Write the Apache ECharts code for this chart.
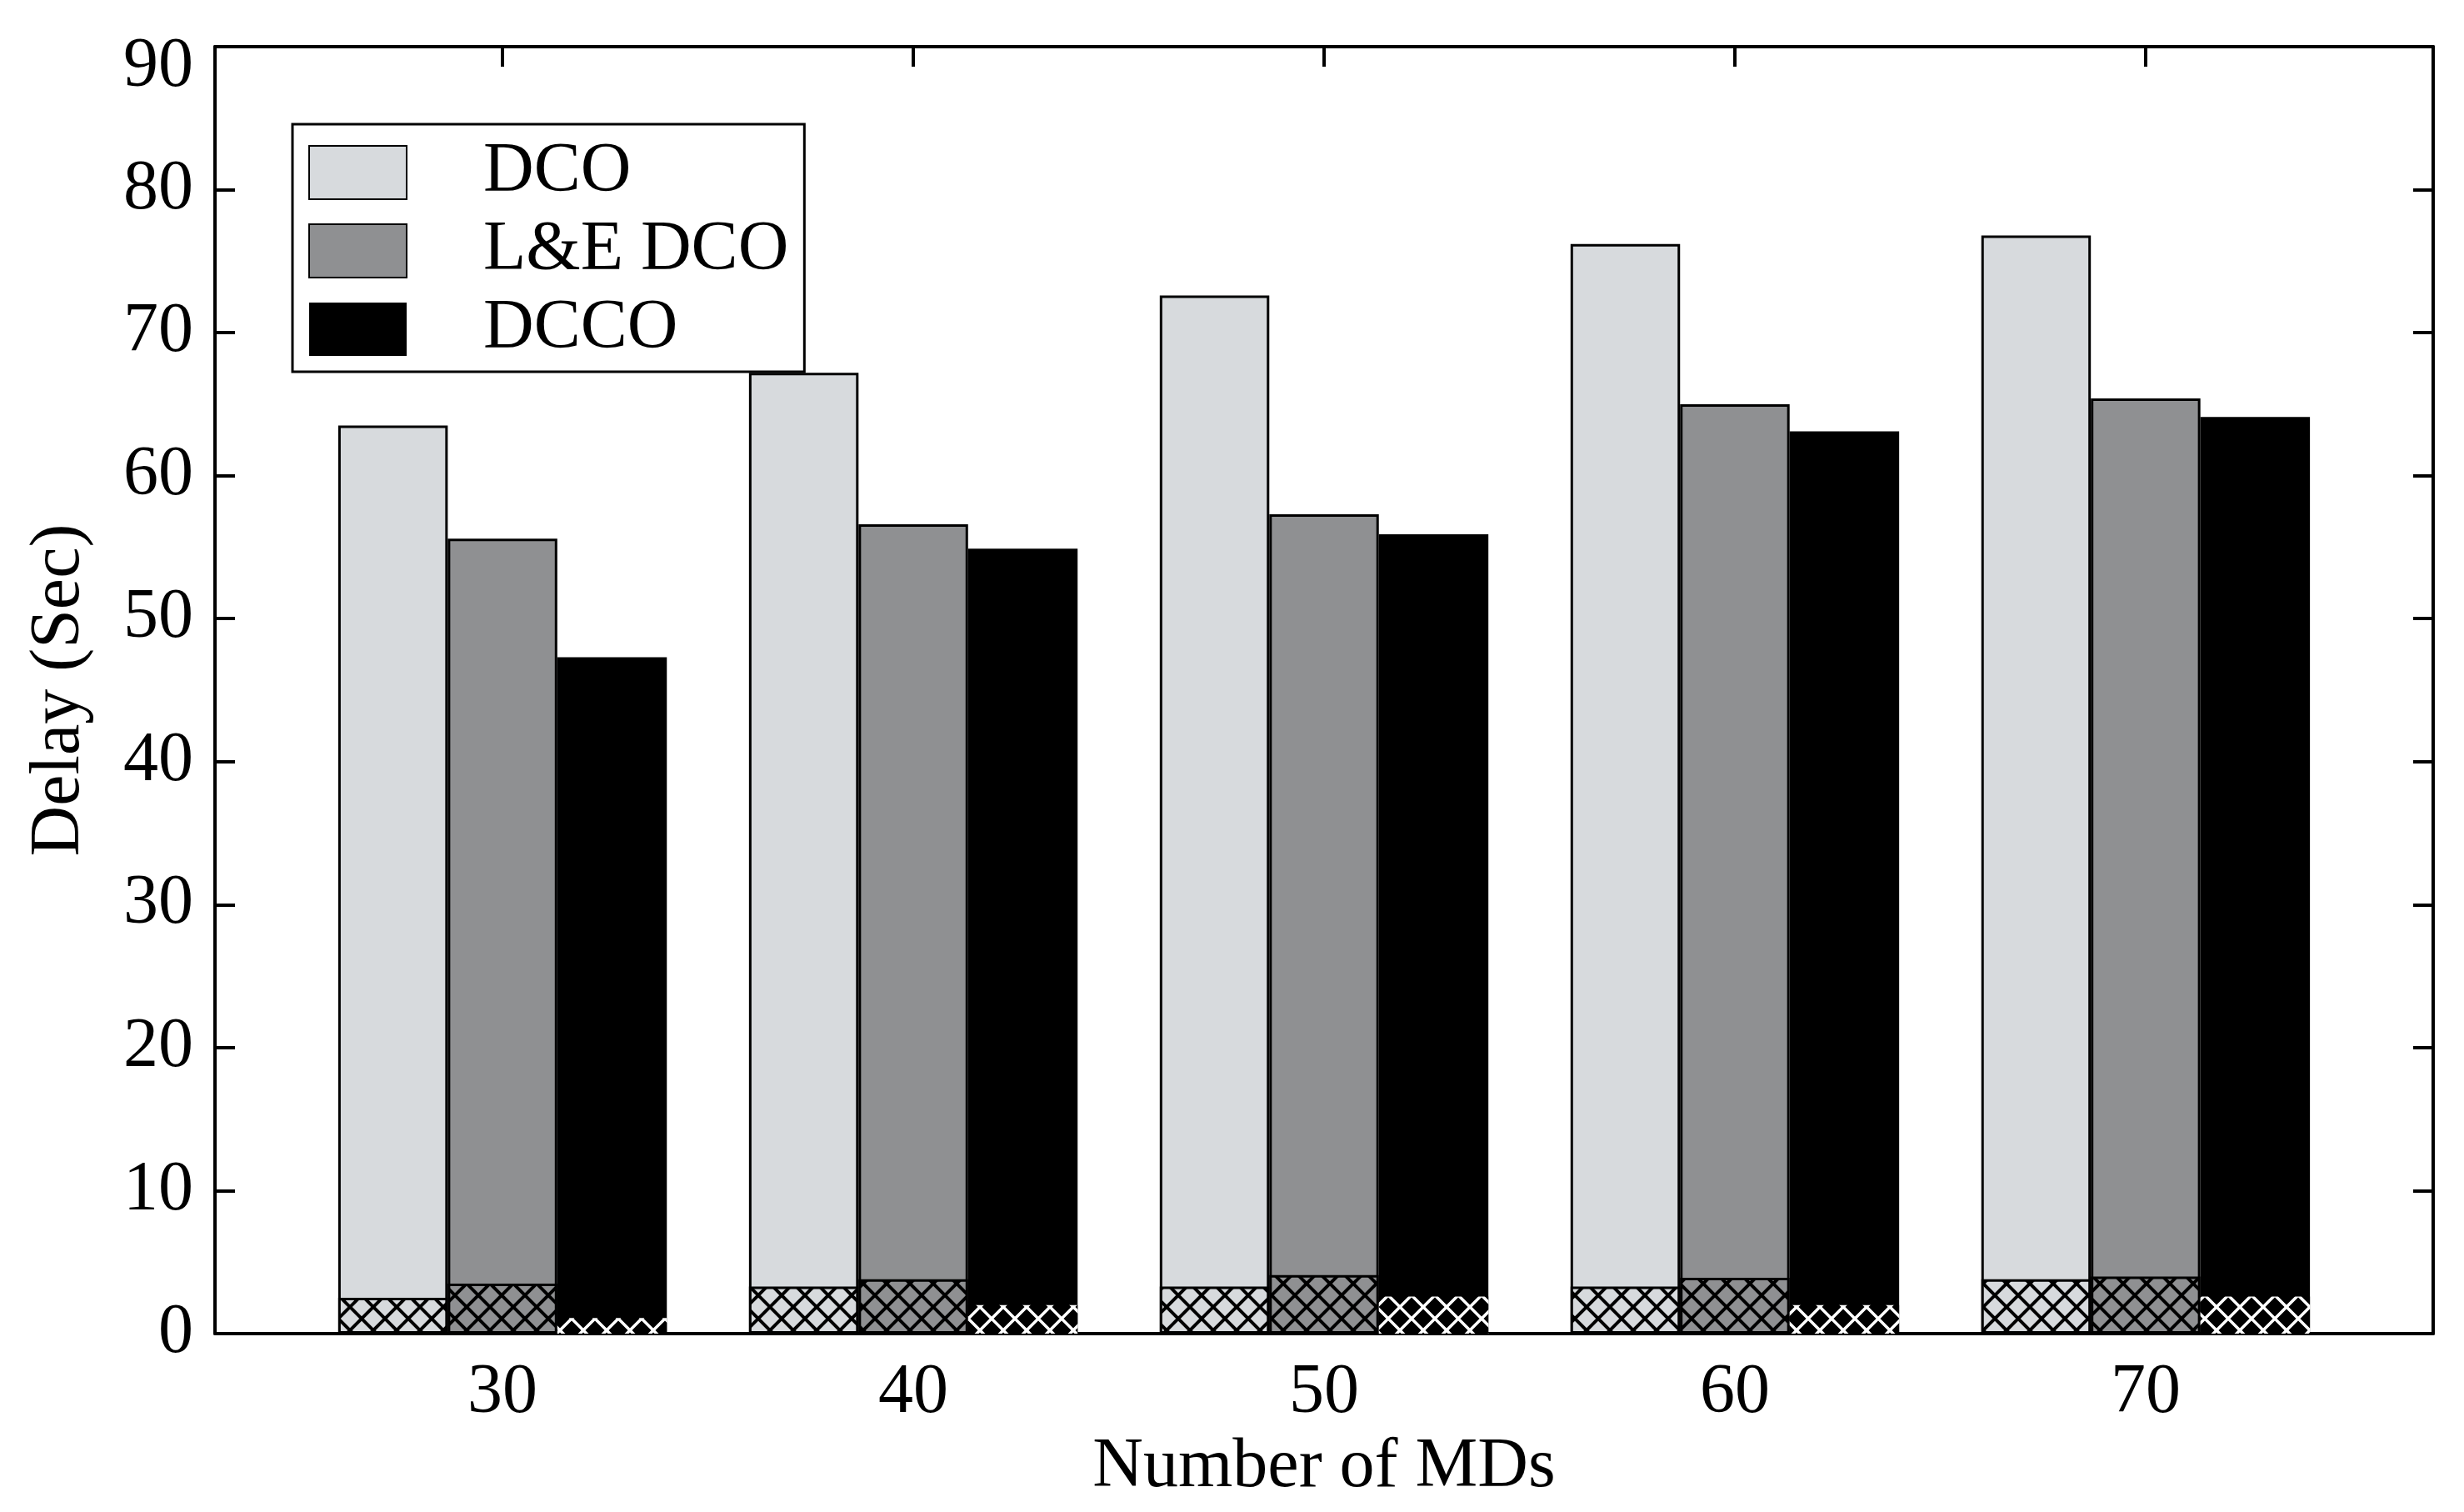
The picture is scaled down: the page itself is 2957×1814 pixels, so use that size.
<!DOCTYPE html>
<html lang="en">

<head>
  <meta charset="UTF-8">
  <title>Delay vs Number of MDs</title>
  <style>
    html, body {
      margin: 0;
      padding: 0;
      background-color: #fff;
    }

    #chart {
      width: 2957px;
      height: 1814px;
    }
  </style>
</head>

<body>
  <div id="chart"></div>
  <script src="https://cdn.jsdelivr.net/npm/echarts@6/dist/echarts.min.js"></script>
  <script>
    // number of MDs (x positions of the bar groups)
    const mds = [30, 40, 50, 60, 70]
    const xTicks = [30, 40, 50, 60, 70]

    // total delay (Sec)
    const dcoTotal = [63.5, 67.2, 72.6, 76.2, 76.8]
    const leTotal = [55.6, 56.6, 57.3, 65.0, 65.4]
    const dccoTotal = [47.3, 54.9, 55.9, 63.1, 64.1]

    // hatched lower part of each bar
    const dcoLow = [2.5, 3.3, 3.3, 3.3, 3.8]
    const leLow = [3.5, 3.8, 4.1, 3.9, 4.0]
    const dccoLow = [1.1, 2.0, 2.6, 2.0, 2.6]

    const FONT = 'Liberation Serif'

    // crosshatch fill as a canvas pattern
    function hatch(bg, fg, lw) {
      const s = 28
      const c = document.createElement('canvas')
      c.width = s
      c.height = s
      const g = c.getContext('2d')
      g.fillStyle = bg
      g.fillRect(0, 0, s, s)
      g.strokeStyle = fg
      g.lineWidth = lw
      g.beginPath()
      g.moveTo(-2, -2)
      g.lineTo(s + 2, s + 2)
      g.moveTo(-2, s + 2)
      g.lineTo(s + 2, -2)
      g.stroke()
      return { image: c, repeat: 'repeat' }
    }

    const pairs = (vals) => mds.map((x, i) => [x, vals[i]])

    const border = { borderColor: '#000', borderWidth: 3 }

    const axisLine = { show: true, onZero: false, lineStyle: { color: '#000', width: 4 } }
    const tick = { show: true, inside: true, length: 24, lineStyle: { color: '#000', width: 4 } }
    const label = { color: '#000', fontFamily: FONT, fontSize: 84 }

    // full bars on the bottom x axis, hatched lower parts on the top x axis
    // (same scale, so both sets get the same group layout)
    const bar = (name, xi, data, style) => ({
      name: name,
      type: 'bar',
      xAxisIndex: xi,
      yAxisIndex: 0,
      barGap: '0%',
      barCategoryGap: '20%',
      itemStyle: style,
      data: pairs(data)
    })

    const option = {
      backgroundColor: '#fff',
      animation: false,
      grid: { left: 258, right: 37, top: 56, bottom: 214 },
      legend: {
        orient: 'vertical',
        left: 351,
        top: 149,
        padding: [16, 19, 9, 19],
        itemWidth: 117,
        itemHeight: 64,
        itemGap: 10,
        borderColor: '#000',
        borderWidth: 3,
        backgroundColor: '#fff',
        icon: 'rect',
        data: ['DCO', 'L&E DCO', 'DCCO'],
        textStyle: {
          color: '#000',
          fontFamily: FONT,
          fontSize: 84,
          padding: [0, 0, 0, 87]
        }
      },
      xAxis: [
        {
          type: 'value',
          min: 23,
          max: 77,
          position: 'bottom',
          axisLine: axisLine,
          axisTick: { ...tick, customValues: xTicks },
          axisLabel: { ...label, margin: 30, customValues: xTicks },
          splitLine: { show: false },
          name: 'Number of MDs',
          nameLocation: 'middle',
          nameGap: 112,
          nameTextStyle: { color: '#000', fontFamily: FONT, fontSize: 84 }
        },
        {
          type: 'value',
          min: 23,
          max: 77,
          position: 'top',
          axisLine: axisLine,
          axisTick: { ...tick, customValues: xTicks },
          axisLabel: { show: false },
          splitLine: { show: false }
        }
      ],
      yAxis: [
        {
          type: 'value',
          min: 0,
          max: 90,
          interval: 10,
          position: 'left',
          axisLine: axisLine,
          axisTick: tick,
          axisLabel: {
            ...label,
            margin: 26,
            formatter: (v) => (v === 90 ? '{top|90}' : String(v)),
            rich: { top: { fontFamily: FONT, fontSize: 84, color: '#000', padding: [50, 0, 0, 0] } }
          },
          splitLine: { show: false },
          name: 'Delay (Sec)',
          nameLocation: 'middle',
          nameGap: 144,
          nameTextStyle: { color: '#000', fontFamily: FONT, fontSize: 84 }
        },
        {
          type: 'value',
          min: 0,
          max: 90,
          interval: 10,
          position: 'right',
          axisLine: axisLine,
          axisTick: tick,
          axisLabel: { show: false },
          splitLine: { show: false }
        }
      ],
      series: [
        bar('DCO', 0, dcoTotal, { color: '#d7dadd', ...border }),
        bar('L&E DCO', 0, leTotal, { color: '#8f9092', ...border }),
        bar('DCCO', 0, dccoTotal, { color: '#000', borderWidth: 0 }),
        bar('DCO low', 1, dcoLow, { color: hatch('#d7dadd', '#000', 4), ...border }),
        bar('L&E DCO low', 1, leLow, { color: hatch('#8f9092', '#000', 4), ...border }),
        bar('DCCO low', 1, dccoLow, { color: hatch('#000', '#fff', 3.5), borderWidth: 0 })
      ]
    }

    const myChart = echarts.init(document.getElementById('chart'))
    myChart.setOption(option)
  </script>
</body>

</html>
